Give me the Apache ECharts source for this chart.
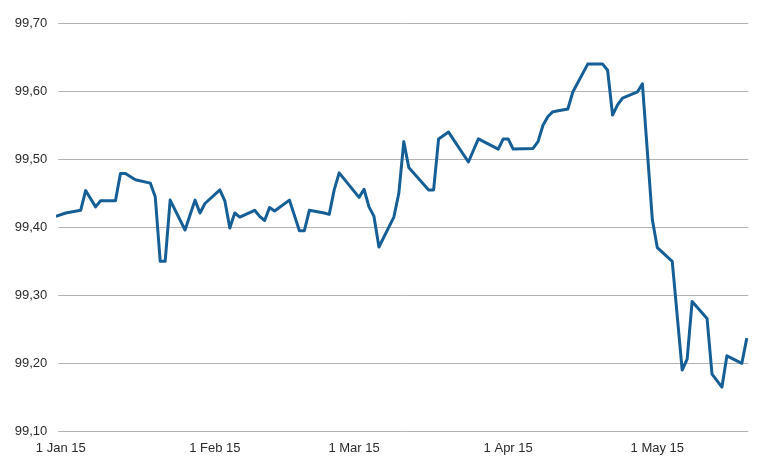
<!DOCTYPE html>
<html>
<head>
<meta charset="utf-8">
<script src="https://cdn.jsdelivr.net/npm/echarts@6.0.0/dist/echarts.min.js"></script>
<style>
  html, body { margin: 0; padding: 0; background: #fff; }
  #chart { width: 768px; height: 474px; }
</style>
</head>
<body>
<div id="chart"></div>
<script>
// price series
const dates = [
  "2014-12-31", "2015-01-02", "2015-01-05", "2015-01-06", "2015-01-08", "2015-01-09",
  "2015-01-12", "2015-01-13", "2015-01-14", "2015-01-16", "2015-01-19", "2015-01-20",
  "2015-01-21", "2015-01-22", "2015-01-23", "2015-01-26", "2015-01-28", "2015-01-29",
  "2015-01-30", "2015-02-02", "2015-02-03", "2015-02-04", "2015-02-05", "2015-02-06",
  "2015-02-09", "2015-02-10", "2015-02-11", "2015-02-12", "2015-02-13", "2015-02-16",
  "2015-02-18", "2015-02-19", "2015-02-20", "2015-02-23", "2015-02-24", "2015-02-25",
  "2015-02-26", "2015-03-02", "2015-03-03", "2015-03-04", "2015-03-05", "2015-03-06",
  "2015-03-09", "2015-03-10", "2015-03-11", "2015-03-12", "2015-03-16", "2015-03-17",
  "2015-03-18", "2015-03-20", "2015-03-24", "2015-03-26", "2015-03-30", "2015-03-31",
  "2015-04-01", "2015-04-02", "2015-04-06", "2015-04-07", "2015-04-08", "2015-04-09",
  "2015-04-10", "2015-04-13", "2015-04-14", "2015-04-17", "2015-04-20", "2015-04-21",
  "2015-04-22", "2015-04-23", "2015-04-24", "2015-04-27", "2015-04-28", "2015-04-30",
  "2015-05-01", "2015-05-04", "2015-05-06", "2015-05-07", "2015-05-08", "2015-05-11",
  "2015-05-12", "2015-05-14", "2015-05-15", "2015-05-18", "2015-05-19"
];
const prices = [
  99.416, 99.421, 99.425, 99.454, 99.430, 99.439,
  99.439, 99.479, 99.479, 99.470, 99.465, 99.445,
  99.350, 99.350, 99.440, 99.396, 99.440, 99.421,
  99.435, 99.455, 99.439, 99.399, 99.421, 99.415,
  99.425, 99.416, 99.410, 99.429, 99.424, 99.440,
  99.395, 99.395, 99.425, 99.421, 99.419, 99.455,
  99.480, 99.444, 99.456, 99.430, 99.416, 99.371,
  99.415, 99.450, 99.526, 99.488, 99.455, 99.455,
  99.530, 99.540, 99.496, 99.530, 99.515, 99.530,
  99.530, 99.515, 99.516, 99.526, 99.550, 99.563,
  99.570, 99.574, 99.599, 99.640, 99.640, 99.631,
  99.565, 99.580, 99.590, 99.599, 99.611, 99.411,
  99.370, 99.350, 99.190, 99.206, 99.291, 99.266,
  99.184, 99.165, 99.211, 99.200, 99.237
];
const tickDates = ["2015-01-01", "2015-02-01", "2015-03-01", "2015-04-01", "2015-05-01"];
const tickLabels = ["1 Jan 15", "1 Feb 15", "1 Mar 15", "1 Apr 15", "1 May 15"];

const DAY = 86400000;
const origin = Date.UTC(2015, 0, 1);
const dayOf = (s) => {
  const p = s.split("-").map(Number);
  return (Date.UTC(p[0], p[1] - 1, p[2]) - origin) / DAY;
};
const tickDays = tickDates.map(dayOf);
const seriesData = dates.map((d, i) => [dayOf(d), prices[i]]);

const chart = echarts.init(document.getElementById("chart"));
chart.setOption({
  animation: false,
  textStyle: { fontFamily: "Liberation Sans, Arial, sans-serif" },
  grid: { left: 58.3, right: 19.7, top: 23.3, bottom: 42.7, containLabel: false },
  xAxis: {
    type: "value",
    min: -0.5,
    max: 138.3,
    axisLine: { show: false },
    axisTick: { show: false },
    splitLine: { show: false },
    axisLabel: {
      customValues: tickDays,
      formatter: (v) => tickLabels[tickDays.indexOf(v)] || "",
      color: "#2b2b2b",
      fontSize: 13,
      margin: 11
    }
  },
  yAxis: {
    type: "value",
    min: 99.1,
    max: 99.7,
    interval: 0.1,
    axisLine: { show: false },
    axisTick: { show: false },
    splitLine: { lineStyle: { color: "#b3b3b3", width: 1 } },
    axisLabel: {
      formatter: (v) => v.toFixed(2).replace(".", ","),
      color: "#2b2b2b",
      fontSize: 13,
      margin: 11
    }
  },
  series: [{
    type: "line",
    data: seriesData,
    showSymbol: false,
    symbol: "none",
    clip: true,
    lineStyle: { color: "#165f96", width: 3, join: "round" }
  }]
});
</script>
</body>
</html>
